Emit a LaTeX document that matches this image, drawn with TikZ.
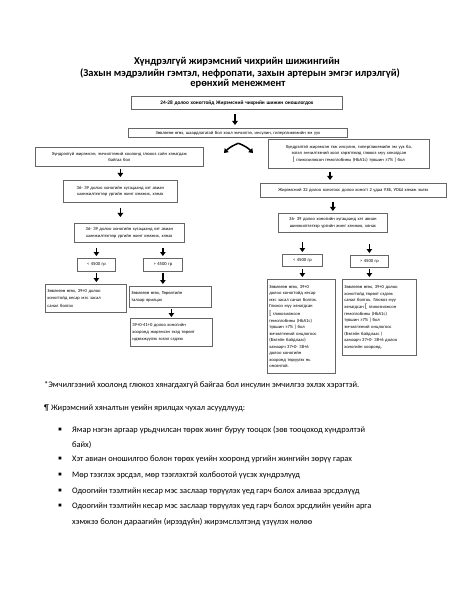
\documentclass[tikz,border=0pt]{standalone}
\usepackage{fontspec}
\setmainfont{Carlito}
\newfontfamily\symfont{DejaVu Sans}
\usetikzlibrary{arrows.meta,calc}
\tikzset{
  bx/.style={draw=black!60, line width=0.75pt, inner xsep=2pt, inner ysep=1pt, anchor=north west,
    align=center, font=\fontsize{4.6}{6.2}\selectfont},
  lbx/.style={bx, align=left},
  arr/.style={-{Triangle[length=4pt,width=5.5pt]}, line width=1.7pt, black},
  ttl/.style={font=\bfseries\fontsize{10.5}{11}\selectfont, align=center},
  body/.style={font=\fontsize{8.4}{10}\selectfont, anchor=west, inner sep=0pt},
  blt/.style={font=\symfont\fontsize{3.6}{5}\selectfont, anchor=center, inner sep=0pt},
}
\begin{document}
\begin{tikzpicture}[x=1pt,y=-1pt]
\useasboundingbox[fill=white] (0,0) rectangle (474,612);

\node[ttl] (t1) at (237,62) {Хүндрэлгүй жирэмсний чихрийн шижингийн};
\node[ttl] (t2) at (240,73) {(Захын мэдрэлийн гэмтэл, нефропати, захын артерын эмгэг илрэлгүй)};
\node[ttl] (t3) at (238,84) {ерөнхий менежмент};

% top
\node[bx, minimum width=211pt, text width=207pt, minimum height=13pt, font=\bfseries\fontsize{5.3}{6.2}\selectfont] (top) at (131,96)
  {24-28 долоо хоногтойд Жирэмсний чихрийн шижин оношлогдох};
\node[bx, minimum width=219pt, text width=215pt, minimum height=9.5pt] (adv) at (128,128)
  {Зөвлөгөө өгөх, шаардлагатай бол хоол эмчилгээ, инсулин, гипергликемийн эм уух};

% branches
\node[bx, minimum width=168pt, text width=164pt, minimum height=19pt] (lbr) at (35,147)
  {Хүндрэлгүй жирэмсэн, эмчилгээний хоолонд глюкоз сайн хянагдаж\\байгаа бол};
\node[bx, minimum width=161pt, text width=157pt, minimum height=29pt] (rbr) at (268,139)
  {Хүндрэлтэй жирэмсэн гэж инсулин, гипергликемийн эм уух ба,\\эсвэл эмчилгээний хоол хэрэглэхэд глюкоз муу хянагдсан\\[1pt]{\fontsize{6}{6}\selectfont[} гликозилжсон гемоглобины (HbA1c) түвшин ≥7\% ] бол};

% left column
\node[bx, minimum width=114pt, text width=110pt, minimum height=22pt] (l1) at (63,180)
  {36- 39 долоо хоногийн хугацаанд хэт авиан\\шинжилгээгээр ургийн жинг хэмжих, хянах};
\node[bx, minimum width=110pt, text width=106pt, minimum height=19pt] (l2) at (74,223)
  {36- 39 долоо хоногийн хугацаанд хэт авиан\\шинжилгээгээр ургийн жинг хэмжих, хянах};
\node[bx, minimum width=38pt, text width=34pt, minimum height=13pt] (ls1) at (77,258) {< 4500 гр};
\node[bx, minimum width=39pt, text width=35pt, minimum height=13pt] (ls2) at (143,258) {> 4500 гр};
\node[lbx, minimum width=81pt, text width=77pt, minimum height=28pt, font=\fontsize{4.6}{7.6}\selectfont] (la) at (45,284)
  {Зөвлөгөө өгөх, 39+0 долоо\\хоногтойд кесар мэс засал\\санал болгох};
\node[lbx, minimum width=82pt, text width=78pt, minimum height=21pt, font=\fontsize{4.6}{7.6}\selectfont] (lb) at (129,286)
  {Зөвлөгөө өгөх, Төрөлтийн\\талаар ярилцах};
\node[lbx, minimum width=82pt, text width=78pt, minimum height=28pt, font=\fontsize{4.6}{7.4}\selectfont] (lc) at (130,318)
  {39+0-41+0 долоо хоногийн\\хооронд жирэмсэн эхэд төрөлт\\идэвхжүүлэх эсвэл сэдээх};

% right column
\node[bx, minimum width=186pt, text width=182pt, minimum height=14pt] (r32) at (260,183)
  {Жирэмсний 32 долоо хоногоос долоо хоногт 2 удаа УЗБ, УОШ хянаж эхлэх};
\node[bx, minimum width=109pt, text width=105pt, minimum height=19pt] (r2) at (278,213)
  {36- 39 долоо хоногийн хугацаанд хэт авиан\\шинжилгээгээр ургийн жинг хэмжих, хянах};
\node[bx, minimum width=40pt, text width=36pt, minimum height=12pt] (rs1) at (282,254) {< 4500 гр};
\node[bx, minimum width=38pt, text width=34pt, minimum height=12pt] (rs2) at (350,255) {> 4500 гр};
\node[lbx, minimum width=68pt, text width=64pt, minimum height=94pt, font=\fontsize{4.6}{6.5}\selectfont] (rd) at (267,279)
  {Зөвлөгөө өгөх, 39+0\\долоо хоногтойд кесар\\мэс засал санал болгох.\\Глюкоз муу хянагдсан\\[1.5pt]{\fontsize{6.5}{6}\selectfont[} гликозилжсон\\гемоглобины (HbA1c)\\түвшин ≥7\% ] бол\\эмчилгээний онцлогоос\\(Бэлэйн байдлаас)\\хамаарч 37+0- 38+6\\долоо хоногийн\\хооронд төрүүлэх нь\\оновчтой.};
\node[lbx, minimum width=74pt, text width=70pt, minimum height=76pt, font=\fontsize{4.6}{6.7}\selectfont] (re) at (342,279)
  {Зөвлөгөө өгөх, 39+0 долоо\\хоногтойд төрөлт сэдээх\\санал болгох. Глюкоз муу\\хянагдсан {\fontsize{6.5}{6}\selectfont[} гликозилжсон\\гемоглобины (HbA1c)\\түвшин ≥7\% ] бол\\эмчилгээний онцлогоос\\(Бэлэйн байдлаас )\\хамаарч 37+0- 38+6 долоо\\хоногийн хооронд.};

% arrows
\draw[arr, shorten <=4pt, shorten >=3pt] (top.south -| 235,0) -- (adv.north -| 235,0);
\coordinate (apex) at ($(adv.south)+(0.5,5)$);
\coordinate (lend) at (224,153);
\coordinate (rend) at (253,153);
\draw[arr, line width=1.5pt] (apex) to[bend right=12] (lend);
\draw[arr, line width=1.5pt] (apex) to[bend left=12] (rend);
\draw[arr, shorten <=2pt, shorten >=3pt] (lbr.south -| l1.north) -- (l1.north);
\draw[arr, shorten <=5pt, shorten >=6pt] (l1.south) -- (l1.south |- l2.north);
\draw[arr, shorten <=5pt, shorten >=2pt] (l2.south -| ls1.north) -- (ls1.north);
\draw[arr, shorten <=5pt, shorten >=2pt] (l2.south -| ls2.north) -- (ls2.north);
\draw[arr, shorten <=1pt, shorten >=2pt] (ls1.south) -- (ls1.south |- la.north);
\draw[arr, shorten <=1pt, shorten >=2pt] (ls2.south) -- (ls2.south |- lb.north);
\draw[arr, shorten <=1pt, shorten >=1pt] (lb.south -| lc.north) -- (lc.north);
\draw[arr, shorten <=3pt, shorten >=3pt] (rbr.south -| 330,0) -- (r32.north -| 330,0);
\draw[arr, shorten <=4pt, shorten >=2pt] (r32.south -| r2.north) -- (r2.north);
\draw[arr, shorten <=9pt, shorten >=2pt] (r2.south -| rs1.north) -- (rs1.north);
\draw[arr, shorten <=11pt, shorten >=2pt] (r2.south -| rs2.north) -- (rs2.north);
\draw[arr, shorten <=2pt, shorten >=2pt] (rs1.south) -- (rs1.south |- rd.north);
\draw[arr, shorten <=1pt, shorten >=2pt] (rs2.south) -- (rs2.south |- re.north);

% notes
\node[body] (n1) at (44,385) {*Эмчилгээний хоолонд глюкоз хянагдахгүй байгаа бол инсулин эмчилгээ эхлэх хэрэгтэй.};
\node[body] (n2) at (44,408) {¶ Жирэмсний хяналтын үеийн ярилцах чухал асуудлууд:};
\node[blt] (b1) at (60,430) {■};
\node[body] (i1a) at (72,430) {Ямар нэгэн аргаар урьдчилсан төрөх жинг буруу тооцох (зөв тооцоход хүндрэлтэй};
\node[body] (i1b) at (72,445) {байх)};
\node[blt] (b2) at (60,459) {■};
\node[body] (i2) at (72,459) {Хэт авиан оношилгоо болон төрөх үеийн хооронд ургийн жингийн зөрүү гарах};
\node[blt] (b3) at (60,475) {■};
\node[body] (i3) at (72,475) {Мөр тээглэх эрсдэл, мөр тээглэхтэй холбоотой үүсэх хүндрэлүүд};
\node[blt] (b4) at (60,491) {■};
\node[body] (i4) at (72,491) {Одоогийн тээлтийн кесар мэс заслаар төрүүлэх үед гарч болох аливаа эрсдэлүүд};
\node[blt] (b5) at (60,506) {■};
\node[body] (i5a) at (72,506) {Одоогийн тээлтийн кесар мэс заслаар төрүүлэх үед гарч болох эрсдлийн үеийн арга};
\node[body] (i5b) at (72,522) {хэмжээ болон дараагийн (ирээдүйн) жирэмслэлтэнд үзүүлэх нөлөө};
\end{tikzpicture}
\end{document}
